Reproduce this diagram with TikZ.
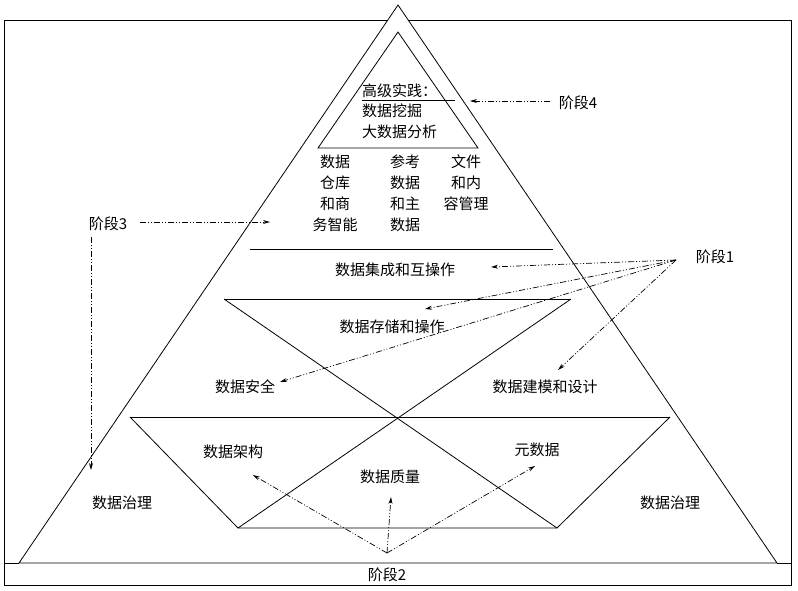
\documentclass[tikz,border=0pt]{standalone}
\usepackage{fontspec}
\setmainfont{Liberation Serif}
\newfontfamily\cjk{Noto Sans CJK SC}
\usetikzlibrary{arrows.meta}
\begin{document}
\begin{tikzpicture}[x=1pt,y=-1pt,
  lab/.style={font=\cjk\fontsize{15}{21}\selectfont, inner sep=1pt},
  ln/.style={line width=0.8pt},
  dd/.style={line width=0.7pt, dash pattern=on 6pt off 2pt on 1pt off 2pt on 1pt off 2pt, -{Stealth[length=7pt,width=4pt]}}]
\useasboundingbox (0,0) rectangle (798,590);
% frame
\draw[ln] (388,20) -- (4,20) -- (4,585) -- (791,585) -- (791,20) -- (408,20);
% outer triangle
\coordinate (A) at (398,5); \coordinate (L) at (19,563); \coordinate (R) at (777,563);
\draw[ln] (A) -- (L) -- (R) -- cycle;
\draw[ln] (4,563) -- (L); \draw[ln] (R) -- (791,563);
% inner triangle
\draw[ln] (398,32) -- (318,148) -- (478,148) -- cycle;
\draw[ln] (362,100) -- (455,100);
% horizontal line
\draw[ln] (250,249) -- (553,249);
% inverted shape
\draw[ln] (224,299) -- (571,299);
\draw[ln] (224,299) -- (557,528);
\draw[ln] (571,299) -- (238,528);
\draw[ln] (130,417) -- (670,417);
\draw[ln] (130,417) -- (238,528) -- (557,528) -- (670,417);
% texts
\node[lab, anchor=south west] (t1) at (361,99) {高级实践：};
\node[lab, align=left, anchor=north west] (top) at (361,103) {数据挖掘\\大数据分析};
\node[lab, align=center, anchor=north] (c1) at (335,154) {数据\\仓库\\和商\\务智能};
\node[lab, align=center, anchor=north] (c2) at (405,154) {参考\\数据\\和主\\数据};
\node[lab, align=center, anchor=north] (c3) at (466,154) {文件\\和内\\容管理};
\node[lab] (jc) at (395,270) {数据集成和互操作};
\node[lab] (cc) at (392,327) {数据存储和操作};
\node[lab] (aq) at (245,387) {数据安全};
\node[lab] (jm) at (545,387) {数据建模和设计};
\node[lab] (jg) at (233,452) {数据架构};
\node[lab] (zl) at (390,477) {数据质量};
\node[lab] (ys) at (537,450) {元数据};
\node[lab] (zl1) at (122,503) {数据治理};
\node[lab] (zl2) at (670,503) {数据治理};
\node[lab] (s1) at (715,257) {阶段1};
\node[lab] (s2) at (387,575) {阶段2};
\node[lab] (s3) at (108,224) {阶段3};
\node[lab] (s4) at (578,103) {阶段4};
% connectors
\coordinate (p1) at (676,260);
\coordinate (p2) at (387,553);
\coordinate (p4) at (550,101);
\coordinate (p3) at (140,222);
\draw[dd] (p4) -- (470,101);
\draw[dd] (p3) -- (270,222);
\draw[dd] (91,237) -- (91,470);
\draw[dd] (p1) -- (491,267);
\draw[dd] (p1) -- (425,309);
\draw[dd] (p1) -- (280,382);
\draw[dd] (p1) -- (558,370);
\draw[dd] (p2) -- (253,475);
\draw[dd] (p2) -- (391,497);
\draw[dd] (p2) -- (535,466);
\end{tikzpicture}
\end{document}
